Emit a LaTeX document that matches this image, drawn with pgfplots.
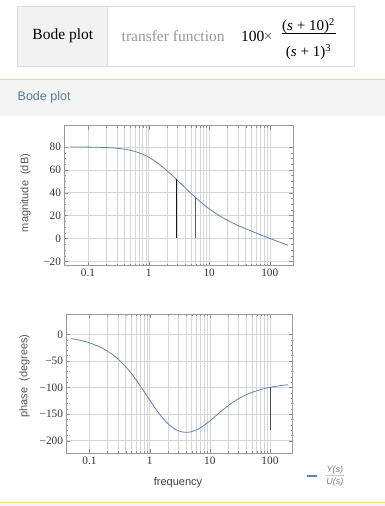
\documentclass[border=0pt]{standalone}
\usepackage{fontspec}
\setmainfont{Liberation Serif}
\setsansfont{Liberation Sans}
\usepackage{pgfplots}
\pgfplotsset{compat=1.18}
\definecolor{mblue}{HTML}{5E81B5}
\definecolor{hdrgray}{HTML}{F2F2F2}
\definecolor{bordergray}{HTML}{DDDDDD}
\definecolor{bandgray}{HTML}{F4F4F4}
\definecolor{ylw}{HTML}{F5D985}
\definecolor{titleblue}{HTML}{5A7D96}
\definecolor{txtgray}{HTML}{999999}
\definecolor{lblgray}{HTML}{555555}
\begin{document}
\begin{tikzpicture}[x=1pt,y=1pt]
\fill[white] (0,0) rectangle (384,506);
% header box
\fill[hdrgray] (17.3,440) rectangle (107.3,499.3);
\draw[bordergray, line width=0.8pt] (17.3,440) rectangle (354.3,499.3);
\draw[bordergray, line width=0.8pt] (107.3,440)--(107.3,499.3);
\node[font=\fontsize{15.5}{18}\selectfont] at (62.3,470) {Bode plot};
\node[anchor=west, inner sep=0, font=\fontsize{15.5}{18}\selectfont, text=txtgray] at (121,470) {transfer function};
\node[anchor=west, inner sep=0, font=\fontsize{15.5}{18}\selectfont] at (240.5,470) {100\kern-0.5pt\textcolor{black!70}{×}};
\node[font=\fontsize{15}{18}\selectfont] at (308,480) {(\textit{s} + 10)\textsuperscript{2}};
\draw[black, line width=0.6pt] (281,472.3)--(335,472.3);
\node[font=\fontsize{15}{18}\selectfont] at (308,454) {(\textit{s} + 1)\textsuperscript{3}};
% band
\fill[bandgray] (0,390) rectangle (384,425.5);
\draw[ylw, line width=1pt] (0,426)--(384,426);
\node[anchor=west, inner sep=0, font=\sffamily\fontsize{12.5}{14}\selectfont, text=titleblue] at (17,408.3) {Bode plot};
\fill[bandgray] (0,0) rectangle (384,3.2);
\draw[ylw, line width=1pt] (0,3.7)--(384,3.7);
% labels
\node[rotate=90, font=\sffamily\fontsize{11}{13}\selectfont, text=lblgray] at (25,313) {magnitude\ \ (dB)};
\node[rotate=90, font=\sffamily\fontsize{11}{13}\selectfont, text=lblgray] at (24,130) {phase\ \ (degrees)};
\node[font=\sffamily\fontsize{11}{13}\selectfont, text=black!75] at (177.5,23.3) {frequency};
% legend
\draw[mblue, line width=1.6pt] (306,30)--(316,30);
\node[font=\sffamily\itshape\fontsize{9}{10}\selectfont, text=black!50] at (334.3,35.8) {Y(s)};
\draw[black!22, line width=0.4pt] (325.3,30.3)--(343.3,30.3);
\node[font=\sffamily\itshape\fontsize{9}{10}\selectfont, text=black!50] at (334.3,23.8) {U(s)};
% magnitude axis
\begin{semilogxaxis}[at={(64pt,240.3pt)}, anchor=south west,
  scale only axis, width=228.3pt, height=140pt,
  xmin=0.0409, xmax=240, ymin=-23.8, ymax=98.6,
  axis line style={black!40},
  major tick length=4pt, minor tick length=2pt,
  xtick={0.1,1,10,100}, xticklabels={0.1,1,10,100},
  minor xtick={0.2,0.3,0.4,0.5,0.6,0.7,0.8,0.9,2,3,4,5,6,7,8,9,20,30,40,50,60,70,80,90},
  xmajorgrids, xminorgrids, ymajorgrids,
  major grid style={black!16, line width=0.5pt},
  minor grid style={black!16, line width=0.5pt},
  major tick style={black!45}, minor tick style={black!45},
  every tick label/.append style={font=\fontsize{11.3}{13}\selectfont, text=black!80},
  xticklabel style={font=\fontsize{11.3}{13}\selectfont},
  yticklabel style={font=\fontsize{11.3}{13}\selectfont},
  ytick={-20,0,20,40,60,80}, yticklabels={−20,0,20,40,60,80},
  minor y tick num=3]
\addplot[mblue, line width=0.8pt, smooth] coordinates {
(0.05,79.968) (0.07,79.937) (0.1,79.871) (0.15,79.712) (0.2,79.492) (0.25,79.216)
(0.3,78.885) (0.4,78.080) (0.5,77.114) (0.6,76.025) (0.7,74.847) (0.8,73.610)
(0.9,72.340) (1,71.056) (1.2,68.503) (1.3,67.253) (1.5,64.837) (1.75,61.998)
(2,59.372) (2.2,57.418) (2.5,54.716) (3,50.749) (3.5,47.337) (4,44.376)
(4.5,41.781) (5,39.489) (6,35.625) (7,32.495) (8,29.910) (10,25.891)
(12,22.907) (15,19.614) (20,15.885) (25,13.310) (30,11.358) (40,8.477)
(50,6.356) (70,3.271) (100,0.085) (150,-3.484) (200,-5.999)};
\addplot[black!90, line width=0.9pt] coordinates {(2.828,0) (2.828,52.04)};
\addplot[black!65, line width=1.3pt] coordinates {(5.916,0) (5.916,35.92)};
\end{semilogxaxis}
% phase axis
\begin{semilogxaxis}[at={(66pt,52.7pt)}, anchor=south west,
  scale only axis, width=226pt, height=139.3pt,
  xmin=0.0415, xmax=236.8, ymin=-223.7, ymax=38.2,
  axis line style={black!40},
  major tick length=4pt, minor tick length=2pt,
  xtick={0.1,1,10,100}, xticklabels={0.1,1,10,100},
  minor xtick={0.2,0.3,0.4,0.5,0.6,0.7,0.8,0.9,2,3,4,5,6,7,8,9,20,30,40,50,60,70,80,90},
  xmajorgrids, xminorgrids, ymajorgrids,
  major grid style={black!16, line width=0.5pt},
  minor grid style={black!16, line width=0.5pt},
  major tick style={black!45}, minor tick style={black!45},
  every tick label/.append style={font=\fontsize{11.3}{13}\selectfont, text=black!80},
  xticklabel style={font=\fontsize{11.3}{13}\selectfont},
  yticklabel style={font=\fontsize{11.3}{13}\selectfont},
  ytick={-200,-150,-100,-50,0}, yticklabels={−200,−150,−100,−50,0},
  minor y tick num=4]
\addplot[mblue, line width=0.8pt, smooth] coordinates {
(0.05,-8.014) (0.07,-11.21) (0.1,-15.99) (0.15,-23.87) (0.2,-31.64) (0.25,-39.24)
(0.3,-46.66) (0.4,-60.82) (0.5,-73.97) (0.6,-86.03) (0.7,-96.97) (0.8,-106.83)
(0.9,-115.68) (1,-123.58) (1.2,-136.90) (1.3,-142.48) (1.5,-151.87) (1.75,-160.91)
(2,-167.69) (2.2,-171.85) (2.5,-176.52) (3,-181.30) (3.5,-183.59) (4,-184.29)
(4.5,-183.96) (5,-182.94) (6,-179.69) (7,-175.63) (8,-171.30) (10,-162.87)
(12,-155.32) (15,-145.94) (20,-134.54) (25,-126.73) (30,-121.14) (40,-113.78)
(50,-109.18) (70,-103.81) (100,-99.70) (150,-96.48) (200,-94.86)};
\addplot[black!70, line width=1.3pt] coordinates {(101,-180) (101,-99.6)};
\end{semilogxaxis}
\end{tikzpicture}
\end{document}
